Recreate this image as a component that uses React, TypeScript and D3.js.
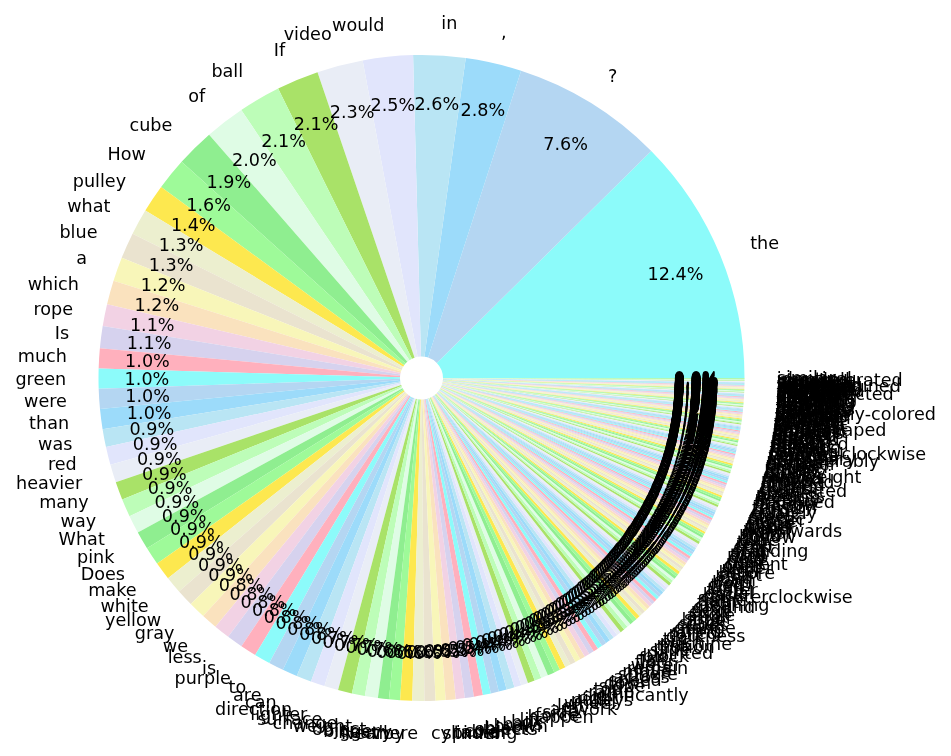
import * as d3 from 'd3';

const width = 951;
const height = 756;

// tokens, biggest first, ten per row
const words = [
    'the', '?', ',', 'in', 'would', 'video', 'If', 'ball', 'of', 'cube',
    'How', 'pulley', 'what', 'blue', 'a', 'which', 'rope', 'Is', 'much', 'green',
    'were', 'than', 'was', 'red', 'heavier', 'many', 'way', 'What', 'pink', 'Does',
    'make', 'white', 'yellow', 'gray', 'we', 'less', 'is', 'purple', 'to', 'are',
    'can', 'direction', 'lighter', 'surface', 'change', 'weight', 'object', 'bigger', 'heavy', 'Nearby',
    'there', 'cylinder', 'spinning', 'table', 'color', 'objects', 'black', 'brown', 'balls', 'box',
    'lift', 'happen', 'force', 'side', 'artwork', 'left', 'wheel', 'pulleys', 'right', 'significantly',
    'ramp', 'top', 'slope', 'down', 'speed', 'across', 'sphere', 'move', 'remain', 'water',
    'floor', 'fall', 'block', 'painted', 'slide', 'motion', 'machine', 'push', 'tilt', 'darkness',
    'rolled', 'string', 'orange', 'cubes', 'stack', 'large', 'small', 'angle', 'edge', 'next',
    'ground', 'cleaning', 'front', 'same', 'counterclockwise', 'back', 'equal', 'faster', 'wall', 'tied',
    'both', 'each', 'long', 'short', 'before', 'after', 'under', 'over', 'current', 'near',
    'hold', 'drop', 'turn', 'spin', 'standing', 'start', 'stop', 'rest', 'tall', 'wide',
    'hollow', 'solid', 'metal', 'downwards', 'wood', 'paper', 'glass', 'stone', 'rubber', 'plastic',
    'steel', 'sides', 'entirely', 'cords', 'tension', 'gravity', 'friction', 'balanced', 'seesaw', 'lever',
    'weights', 'sizes', 'shapes', 'separated', 'colors', 'pulled', 'pushed', 'lifted', 'dropped', 'moved',
    'rotates', 'overweight', 'slowly', 'quickly', 'higher', 'lower', 'larger', 'smaller', 'darker', 'brighter',
    'spinner', 'considerably', 'stationary', 'level', 'vertical', 'diagonal', 'counter-clockwise', 'rotating', 'sliding', 'falling',
    'hanging', 'rolling', 'tilted', 'attached', 'linked', 'resting', 'hung', 'stacked', 'placed', 'located',
    'aligned', 'shown', 'appears', 'heaviest', 'lightest', 'cube-shaped', 'biggest', 'smallest', 'longest', 'shortest',
    'fastest', 'slowest', 'tallest', 'number', 'amount', 'another', 'between', 'without', 'together', 'opposite',
    'differently-colored', 'clearly', 'visible', 'contains', 'includes', 'remains', 'becomes', 'touching', 'moving', 'turning',
    'lifting', 'pulling', 'pushing', 'weighing', 'holding', 'dropping', 'floating', 'sinking', 'bouncing', 'leaning',
    'staying', 'sitting', 'carrying', 'swinging', 'disconnected', 'stopped', 'started', 'finished', 'happened', 'changed',
    'increased', 'reduced', 'reversed', 'released', 'loosened', 'tightened', 'undetermined', 'balancing', 'rotated', 'wrapped',
    'spherical', 'curved', 'squared', 'circular', 'rounded', 'unaccelerated', 'identical', 'similar',
];

// share of each token in percent, estimated off the wedge edges
const shares = [
    12.4, 7.6, 2.8, 2.6, 2.5, 2.3, 2.1, 2.1, 2.0, 1.9,
    1.6, 1.4, 1.3, 1.3, 1.2, 1.2, 1.1, 1.1, 1.0, 1.0,
    1.0, 1.0, 0.9, 0.9, 0.9, 0.9, 0.9, 0.9, 0.9, 0.9,
    0.9, 0.85, 0.85, 0.85, 0.8, 0.8, 0.8, 0.8, 0.8, 0.75,
    0.75, 0.75, 0.7, 0.7, 0.7, 0.65, 0.65, 0.55, 0.55, 0.6,
    0.6, 0.55, 0.5, 0.5, 0.45, 0.45, 0.45, 0.4, 0.4, 0.4,
    0.4, 0.35, 0.35, 0.35, 0.35, 0.35, 0.35, 0.3, 0.3, 0.28,
    0.28, 0.27, 0.26, 0.26, 0.25, 0.25, 0.24, 0.24, 0.23, 0.23,
    0.22, 0.22, 0.21, 0.21, 0.2, 0.2, 0.2, 0.19, 0.18, 0.18,
    0.17, 0.17, 0.17, 0.16, 0.16, 0.16, 0.16, 0.15, 0.15, 0.15,
    0.15, 0.15, 0.14, 0.14, 0.14, 0.14, 0.14, 0.14, 0.14, 0.13,
    0.13, 0.13, 0.13, 0.13, 0.13, 0.12, 0.12, 0.12, 0.12, 0.12,
    0.12, 0.12, 0.11, 0.11, 0.11, 0.11, 0.11, 0.11, 0.11, 0.11,
    0.11, 0.11, 0.11, 0.1, 0.1, 0.1, 0.1, 0.1, 0.1, 0.1,
    0.1, 0.1, 0.1, 0.1, 0.1, 0.1, 0.1, 0.1, 0.09, 0.09,
    0.09, 0.09, 0.09, 0.09, 0.09, 0.08, 0.08, 0.08, 0.08, 0.08,
    0.08, 0.08, 0.08, 0.08, 0.08, 0.08, 0.07, 0.07, 0.07, 0.07,
    0.07, 0.07, 0.07, 0.07, 0.06, 0.06, 0.06, 0.06, 0.06, 0.06,
    0.06, 0.06, 0.06, 0.06, 0.06, 0.06, 0.06, 0.06, 0.06, 0.06,
    0.05, 0.05, 0.05, 0.05, 0.05, 0.05, 0.05, 0.05, 0.05, 0.05,
    0.05, 0.05, 0.05, 0.05, 0.05, 0.05, 0.05, 0.04, 0.04, 0.04,
    0.04, 0.04, 0.04, 0.04, 0.04, 0.04, 0.04, 0.04, 0.04, 0.04,
    0.04, 0.04, 0.04, 0.04, 0.04, 0.04, 0.04, 0.04, 0.04, 0.03,
    0.03, 0.03, 0.03, 0.03, 0.03, 0.03, 0.03, 0.03, 0.03, 0.03,
    0.03, 0.03, 0.03, 0.03, 0.03, 0.03, 0.03, 0.03, 0.03, 0.03,
    0.03, 0.03, 0.03, 0.03, 0.03, 0.03, 0.03, 0.03,
];

// repeats every 19 wedges
const palette = [
    '#8cfbfa', '#b4d6f2', '#9cdbfa', '#b9e5f4', '#e1e5fc', '#e9edf6', '#a9e267',
    '#bdfdb8', '#dffce5', '#8fee90', '#9efa99', '#fde84f', '#eceFcf', '#eae3cf',
    '#f8f6b9', '#fae2be', '#f2d2e4', '#d6d2ee', '#ffb0bd',
];

const cx = 421.5;
const cy = 378;
const radius = 323;
const holeRadius = 21.5;
const fontSize = 17.6;

export default function App() {
    const total = d3.sum(shares);
    const color = d3.scaleOrdinal<number, string>().domain(d3.range(palette.length)).range(palette);

    // starts due east and runs counterclockwise
    const slices = d3.pie<number>()
        .sort(null)
        .startAngle(Math.PI / 2)
        .endAngle(Math.PI / 2 - 2 * Math.PI)(shares);

    const arc = d3.arc<d3.PieArcDatum<number>>().innerRadius(holeRadius).outerRadius(radius);

    const polar = (d: d3.PieArcDatum<number>, r: number) => {
        const a = (d.startAngle + d.endAngle) / 2;
        return [r * Math.sin(a), -r * Math.cos(a)];
    };

    return (
        <svg
            width={width}
            height={height}
            style={{ position: 'absolute', left: 0, top: 0 }}
            fontFamily="'DejaVu Sans'"
            fontSize={fontSize}
        >
            <defs>
                <filter id="soft" x="0" y="0" width={width} height={height} filterUnits="userSpaceOnUse">
                    <feGaussianBlur stdDeviation="0.55" />
                </filter>
            </defs>
            <rect width={width} height={height} fill="#fff" />
            <g filter="url(#soft)">
                <g transform={`translate(${cx},${cy})`}>
                    {slices.map((d, i) => (
                        <path key={i} d={arc(d) ?? ''} fill={color(i % palette.length)} />
                    ))}
                    {slices.map((d, i) => {
                        const [lx, ly] = polar(d, radius * 1.1);
                        const [px, py] = polar(d, radius * 0.85);
                        return (
                            <g key={i} fill="#000">
                                <text
                                    x={lx}
                                    y={ly}
                                    textAnchor={lx > 0 ? 'start' : 'end'}
                                    dominantBaseline="central"
                                >
                                    {words[i]}
                                </text>
                                <text x={px} y={py} textAnchor="middle" dominantBaseline="central">
                                    {`${((d.value / total) * 100).toFixed(1)}%`}
                                </text>
                            </g>
                        );
                    })}
                </g>
            </g>
        </svg>
    );
}
